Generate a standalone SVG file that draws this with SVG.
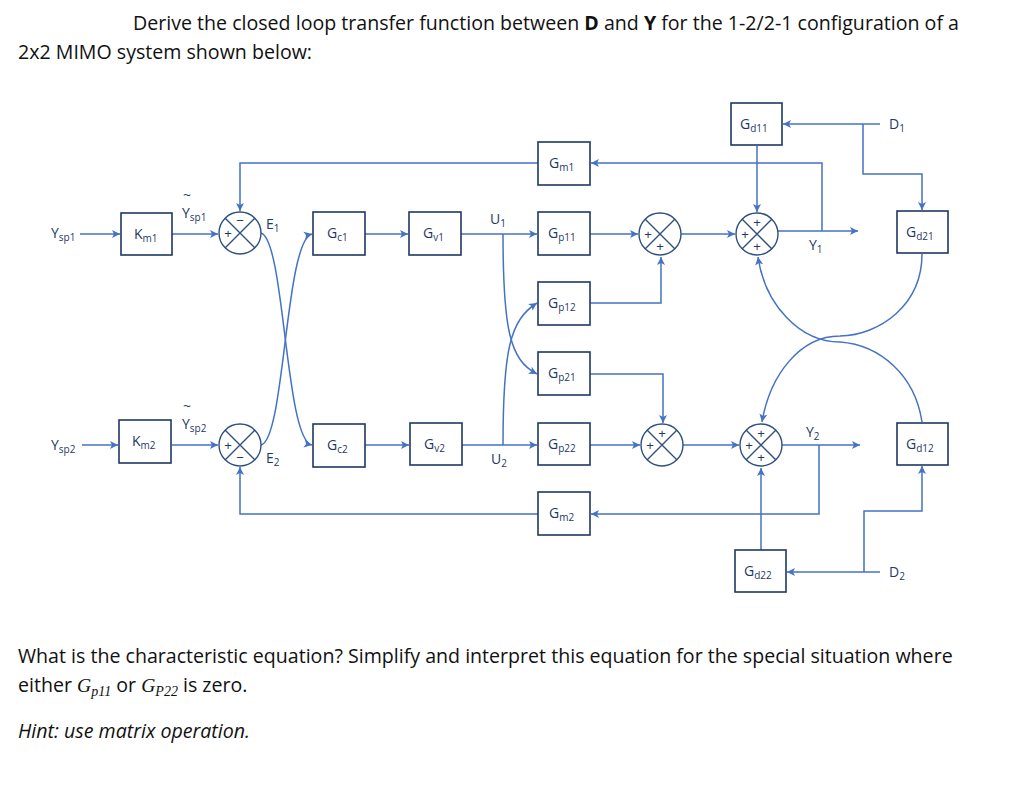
<svg xmlns="http://www.w3.org/2000/svg" width="1024" height="804" viewBox="0 0 1024 804">
<defs>
<marker id="a" markerWidth="10" markerHeight="10" refX="9" refY="5" orient="auto" markerUnits="userSpaceOnUse"><path d="M1,1 L9,5 L1,9 L3,5 Z" fill="#4472C4"/></marker>
<style>
.b{fill:#fff;stroke:#1F3864;stroke-width:1.6}
.s{fill:#fff;stroke:#2F4F7F;stroke-width:1.4}
.x{stroke:#2F4F7F;stroke-width:1.4}
.c{fill:none;stroke:#4472C4;stroke-width:1.5}
.ar{marker-end:url(#a)}
.t{font-family:"Open Sans","Liberation Sans",sans-serif;fill:#1F3864;font-size:14px}
.sub{font-size:10px}
.q{font-family:"Open Sans","Liberation Sans",sans-serif;fill:#111;font-size:19.6px}
.sg{font-family:"Liberation Sans",sans-serif;fill:#1F3864;font-size:13px;text-anchor:middle}
</style>
</defs>
<rect width="1024" height="804" fill="#fff"/>
<text class="q" x="133" y="30">Derive the closed loop transfer function between <tspan font-weight="bold">D</tspan> and <tspan font-weight="bold">Y</tspan> for the 1-2/2-1 configuration of a</text>
<text class="q" x="18" y="59">2x2 MIMO system shown below:</text>
<text class="q" x="18" y="663">What is the characteristic equation? Simplify and interpret this equation for the special situation where</text>
<text class="q" x="18" y="692">either <tspan font-family="Liberation Serif" font-style="italic">G</tspan><tspan font-family="Liberation Serif" font-style="italic" font-size="14" dy="4">p11</tspan><tspan dy="-4"> or </tspan><tspan font-family="Liberation Serif" font-style="italic">G</tspan><tspan font-family="Liberation Serif" font-style="italic" font-size="14" dy="4">P22</tspan><tspan dy="-4"> is zero.</tspan></text>
<text class="q" x="18" y="738" font-style="italic">Hint: use matrix operation.</text>

<g id="connectors">
<path class="c ar" d="M80,234 H120"/>
<path class="c ar" d="M82,445 H118"/>
<path class="c ar" d="M172,234 H218"/>
<path class="c ar" d="M172,445 H218"/>
<path class="c ar" d="M261,233 C285,240 285,440 312,445"/>
<path class="c ar" d="M261,445 C285,440 285,240 312,234"/>
<path class="c ar" d="M365,234 H408"/>
<path class="c ar" d="M365,445 H409"/>
<path class="c ar" d="M461,234 H537"/>
<path class="c ar" d="M462,445 H537"/>
<path class="c ar" d="M503,234 C503,330 510,360 537,374"/>
<path class="c ar" d="M503,445 C503,350 510,320 537,303"/>
<path class="c ar" d="M590,234 H638"/>
<path class="c ar" d="M590,445 H640"/>
<path class="c ar" d="M590,303 H661 V257"/>
<path class="c ar" d="M590,374 H663 V423"/>
<path class="c ar" d="M681,234 H735"/>
<path class="c ar" d="M683,445 H739"/>
<path class="c ar" d="M778,231 H858"/>
<path class="c ar" d="M782,445 H860"/>
<path class="c ar" d="M822,231 V163 H591"/>
<path class="c ar" d="M538,163 H240 V211"/>
<path class="c ar" d="M819,445 V514 H591"/>
<path class="c ar" d="M538,514 H240 V467"/>
<path class="c ar" d="M880,124 H783"/>
<path class="c ar" d="M863,124 V174 H922 V210"/>
<path class="c ar" d="M880,572 H787"/>
<path class="c ar" d="M864,572 V511 H922 V466"/>
<path class="c ar" d="M757,146 V212"/>
<path class="c ar" d="M761,550 V468"/>
<path class="c ar" d="M922,254 C922,305 880,335 840,336 C800,336 770,375 762,422"/>
<path class="c ar" d="M922,422 C915,375 880,345 840,342 C800,342 765,305 758,257"/>
</g>

<g id="Km1"><rect class="b" x="121" y="213" width="51" height="42"/><text class="t" x="134" y="239">K<tspan class="sub" dy="3">m1</tspan></text></g>
<g id="Km2"><rect class="b" x="119" y="420" width="52" height="43"/><text class="t" x="132" y="446">K<tspan class="sub" dy="3">m2</tspan></text></g>
<g id="Gc1"><rect class="b" x="313" y="212" width="52" height="43"/><text class="t" x="327" y="238">G<tspan class="sub" dy="3">c1</tspan></text></g>
<g id="Gc2"><rect class="b" x="313" y="424" width="52" height="43"/><text class="t" x="327" y="450">G<tspan class="sub" dy="3">c2</tspan></text></g>
<g id="Gv1"><rect class="b" x="409" y="212" width="52" height="43"/><text class="t" x="423" y="238">G<tspan class="sub" dy="3">v1</tspan></text></g>
<g id="Gv2"><rect class="b" x="410" y="423" width="52" height="42"/><text class="t" x="424" y="449">G<tspan class="sub" dy="3">v2</tspan></text></g>
<g id="Gm1"><rect class="b" x="538" y="142" width="52" height="43"/><text class="t" x="549" y="168">G<tspan class="sub" dy="3">m1</tspan></text></g>
<g id="Gp11"><rect class="b" x="538" y="212" width="52" height="43"/><text class="t" x="548" y="238">G<tspan class="sub" dy="3">p11</tspan></text></g>
<g id="Gp12"><rect class="b" x="538" y="282" width="52" height="43"/><text class="t" x="548" y="308">G<tspan class="sub" dy="3">p12</tspan></text></g>
<g id="Gp21"><rect class="b" x="538" y="352" width="52" height="43"/><text class="t" x="548" y="378">G<tspan class="sub" dy="3">p21</tspan></text></g>
<g id="Gp22"><rect class="b" x="538" y="423" width="52" height="42"/><text class="t" x="548" y="449">G<tspan class="sub" dy="3">p22</tspan></text></g>
<g id="Gm2"><rect class="b" x="538" y="492" width="52" height="43"/><text class="t" x="549" y="518">G<tspan class="sub" dy="3">m2</tspan></text></g>
<g id="Gd11"><rect class="b" x="731" y="103" width="51" height="42"/><text class="t" x="740" y="129">G<tspan class="sub" dy="3">d11</tspan></text></g>
<g id="Gd21"><rect class="b" x="897" y="211" width="51" height="42"/><text class="t" x="906" y="237">G<tspan class="sub" dy="3">d21</tspan></text></g>
<g id="Gd12"><rect class="b" x="897" y="423" width="51" height="42"/><text class="t" x="906" y="449">G<tspan class="sub" dy="3">d12</tspan></text></g>
<g id="Gd22"><rect class="b" x="735" y="550" width="51" height="42"/><text class="t" x="744" y="576">G<tspan class="sub" dy="3">d22</tspan></text></g>

<g id="S1"><circle class="s" cx="240" cy="233" r="21"/><path class="x" d="M225,218 L255,248 M255,218 L225,248"/><text class="sg" x="228" y="238">+</text><text class="sg" x="240" y="225">−</text></g>
<g id="S2"><circle class="s" cx="240" cy="445" r="21"/><path class="x" d="M225,430 L255,460 M255,430 L225,460"/><text class="sg" x="228" y="450">+</text><text class="sg" x="240" y="462">−</text></g>
<g id="S3"><circle class="s" cx="660" cy="234" r="21"/><path class="x" d="M645,219 L675,249 M675,219 L645,249"/><text class="sg" x="648" y="239">+</text><text class="sg" x="660" y="251">+</text></g>
<g id="S4"><circle class="s" cx="662" cy="445" r="21"/><path class="x" d="M647,430 L677,460 M677,430 L647,460"/><text class="sg" x="650" y="450">+</text><text class="sg" x="662" y="438">+</text></g>
<g id="S5"><circle class="s" cx="757" cy="234" r="21"/><path class="x" d="M742,219 L772,249 M772,219 L742,249"/><text class="sg" x="745" y="239">+</text><text class="sg" x="757" y="227">+</text><text class="sg" x="757" y="251">+</text></g>
<g id="S6"><circle class="s" cx="761" cy="445" r="21"/><path class="x" d="M746,430 L776,460 M776,430 L746,460"/><text class="sg" x="749" y="450">+</text><text class="sg" x="761" y="438">+</text><text class="sg" x="761" y="462">+</text></g>

<g id="labels">
<text class="t" x="51" y="238">Y<tspan class="sub" dy="3">sp1</tspan></text>
<text class="t" x="51" y="450">Y<tspan class="sub" dy="3">sp2</tspan></text>
<text class="t" x="182" y="218">Y<tspan class="sub" dy="3">sp1</tspan></text><text class="t" x="183" y="200" font-size="11">~</text>
<text class="t" x="182" y="429">Y<tspan class="sub" dy="3">sp2</tspan></text><text class="t" x="183" y="411" font-size="11">~</text>
<text class="t" x="266" y="229">E<tspan class="sub" dy="3">1</tspan></text>
<text class="t" x="266" y="463">E<tspan class="sub" dy="3">2</tspan></text>
<text class="t" x="490" y="224">U<tspan class="sub" dy="3">1</tspan></text>
<text class="t" x="491" y="464">U<tspan class="sub" dy="3">2</tspan></text>
<text class="t" x="809" y="250">Y<tspan class="sub" dy="3">1</tspan></text>
<text class="t" x="806" y="437">Y<tspan class="sub" dy="3">2</tspan></text>
<text class="t" x="889" y="129">D<tspan class="sub" dy="3">1</tspan></text>
<text class="t" x="889" y="577">D<tspan class="sub" dy="3">2</tspan></text>
</g>
</svg>
